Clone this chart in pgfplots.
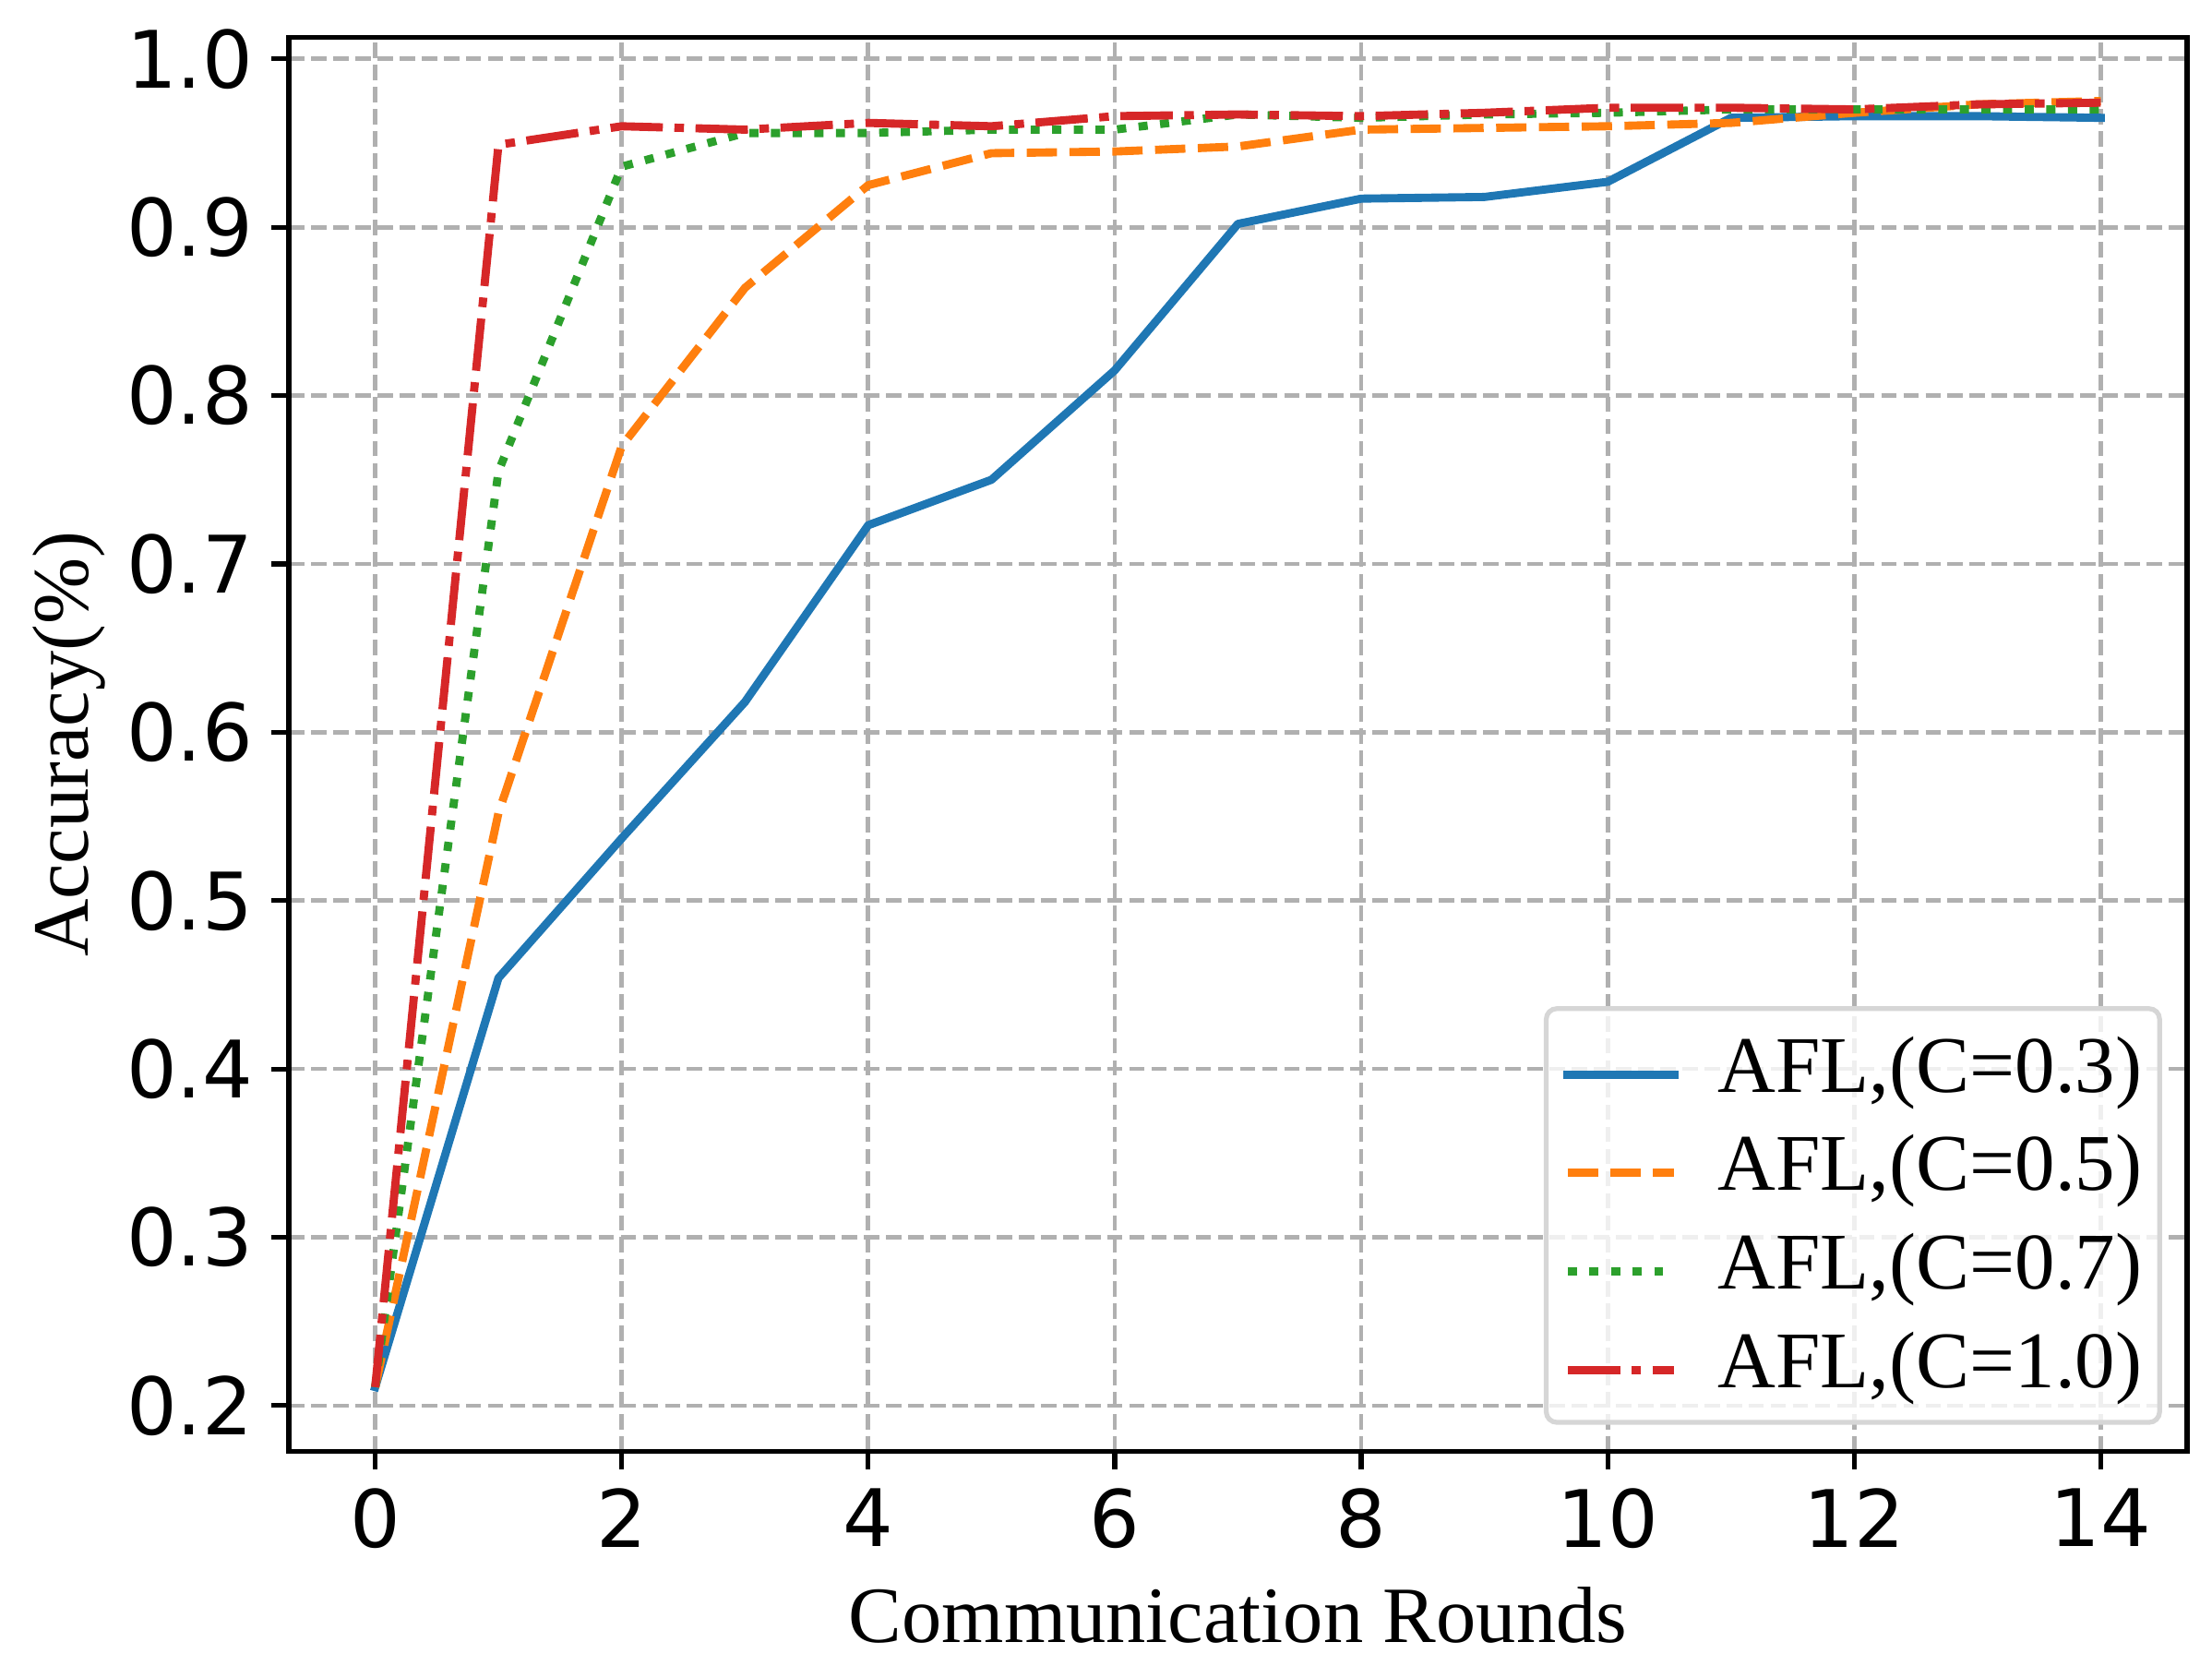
\documentclass[border=0pt]{standalone}
\usepackage{fontspec}
\setmainfont{Liberation Serif}
\newfontfamily\dejavu{DejaVu Sans}
\usepackage{pgfplots}
\pgfplotsset{compat=1.18}
\definecolor{c1}{HTML}{1F77B4}
\definecolor{c2}{HTML}{FF7F0E}
\definecolor{c3}{HTML}{2CA02C}
\definecolor{c4}{HTML}{D62728}
\definecolor{gridgray}{HTML}{B0B0B0}
\definecolor{legendgray}{HTML}{D6D6D6}
\begin{document}
\begin{tikzpicture}
\useasboundingbox (-60.1pt,-44.5pt) rectangle (400pt,301.9pt);
\begin{axis}[
  at={(0pt,0pt)}, anchor=south west,
  scale only axis, width=394.8pt, height=294.2pt,
  xmin=-0.7, xmax=14.7, ymin=0.1726, ymax=1.0130,
  xtick={0,2,4,6,8,10,12,14},
  ytick={0.2,0.3,0.4,0.5,0.6,0.7,0.8,0.9,1.0},
  yticklabel style={/pgf/number format/fixed, /pgf/number format/fixed zerofill, /pgf/number format/precision=1, anchor=east, inner sep=0pt, xshift=-3.7pt},
  /pgf/number format/assume math mode=true,
  tick label style={font=\fontsize{16.5}{19}\dejavu, text=black},
  xticklabel style={anchor=north, inner sep=0pt, yshift=-3.8pt},
  tick align=outside, major tick length=3.65pt,
  xtick pos=bottom, ytick pos=left,
  tick style={line width=1pt, black},
  axis line style={line width=1pt},
  grid=major,
  major grid style={line width=0.9pt, color=gridgray, dash pattern=on 3.2pt off 1.4pt},
  xlabel={Communication Rounds}, ylabel={Accuracy(\%)},
  every axis x label/.style={at={(axis description cs:0.5,-0.1349)}, anchor=base, font=\fontsize{16.6}{20}\selectfont},
  every axis y label/.style={at={(axis description cs:-0.1059,0.5)}, rotate=90, anchor=base, font=\fontsize{16.6}{20}\selectfont},
  legend cell align=left,
  legend image code/.code={\draw[#1] (0pt,-1.4pt) -- (22.2pt,-1.4pt);},
  legend style={
    at={(axis description cs:1,0)}, anchor=south east,
    xshift=-5.2pt, yshift=5.6pt,
    draw=legendgray, line width=1pt, rounded corners=2.2pt,
    fill=white, fill opacity=0.8, text opacity=1,
    font=\fontsize{16.7}{20}\selectfont,
    inner xsep=3.6pt, inner ysep=3.75pt,
    row sep=3.4pt,
    /tikz/every odd column/.append style={column sep=6.2pt},
  },
]
\addplot[color=c1, line width=1.7pt, line join=round, line cap=rect] coordinates {
(0,0.211) (1,0.454) (2,0.537) (3,0.618) (4,0.723) (5,0.750) (6,0.815) (7,0.902)
(8,0.917) (9,0.918) (10,0.927) (11,0.965) (12,0.966) (13,0.966) (14,0.965)};
\addlegendentry{AFL,(C=0.3)\kern-2pt}
\addplot[color=c2, line width=1.7pt, line join=round, dash pattern=on 6.3pt off 2.6pt] coordinates {
(0,0.211) (1,0.552) (2,0.770) (3,0.864) (4,0.925) (5,0.944) (6,0.945) (7,0.948)
(8,0.958) (9,0.959) (10,0.960) (11,0.962) (12,0.968) (13,0.973) (14,0.975)};
\addlegendentry{AFL,(C=0.5)\kern-2pt}
\addplot[color=c3, line width=1.7pt, line join=round, dash pattern=on 1.9pt off 2.6pt] coordinates {
(0,0.211) (1,0.755) (2,0.936) (3,0.956) (4,0.956) (5,0.958) (6,0.958) (7,0.967)
(8,0.965) (9,0.967) (10,0.968) (11,0.970) (12,0.970) (13,0.970) (14,0.970)};
\addlegendentry{AFL,(C=0.7)\kern-2pt}
\addplot[color=c4, line width=1.7pt, line join=round, dash pattern=on 10.9pt off 2.4pt on 2.0pt off 2.4pt] coordinates {
(0,0.211) (1,0.949) (2,0.960) (3,0.958) (4,0.962) (5,0.960) (6,0.966) (7,0.967)
(8,0.966) (9,0.968) (10,0.971) (11,0.971) (12,0.970) (13,0.973) (14,0.974)};
\addlegendentry{AFL,(C=1.0)\kern-2pt}
\end{axis}
\end{tikzpicture}
\end{document}
